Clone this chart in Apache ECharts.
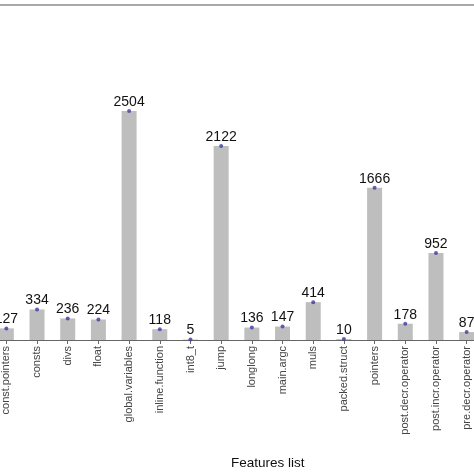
<!DOCTYPE html>
<html>
<head>
<meta charset="utf-8">
<script src="https://cdn.jsdelivr.net/npm/echarts@6/dist/echarts.min.js"></script>
<style>html,body{margin:0;padding:0;background:#fff;overflow:hidden;width:474px;height:474px;}#c{position:absolute;left:-9px;top:0;width:491px;height:474px;}</style>
</head>
<body>
<div id="c"></div>
<script>
var categories = ['const.pointers','consts','divs','float','global.variables','inline.function','int8_t','jump','longlong','main.argc','muls','packed.struct','pointers','post.decr.operator','post.incr.operator','pre.decr.operator'];
var counts = [127, 334, 236, 224, 2504, 118, 5, 2122, 136, 147, 414, 10, 1666, 178, 952, 87];
var axisTitle = 'Features list';

var OFF = 9;
var chart = echarts.init(document.getElementById('c'));
chart.setOption({
  animation: false,
  textStyle: { fontFamily: 'Liberation Sans, Arial, sans-serif' },
  grid: { left: 0, right: 0, top: 20, bottom: 134, containLabel: false, outerBoundsMode: 'none' },
  graphic: [{
    type: 'line', shape: { x1: 0, y1: 5, x2: 491, y2: 5 },
    style: { stroke: '#8c8c8c', lineWidth: 1.5 }
  }],
  title: {
    text: axisTitle, left: 231 + OFF, top: 456, padding: 0,
    textStyle: { fontSize: 13.5, fontWeight: 'normal', color: '#111', fontFamily: 'Liberation Sans, Arial, sans-serif' }
  },
  xAxis: {
    type: 'category', data: categories,
    axisLine: { show: true, lineStyle: { color: '#666', width: 1 } },
    axisTick: { show: true, alignWithLabel: true, length: 4, lineStyle: { color: '#666' } },
    axisLabel: { rotate: 90, interval: 0, fontSize: 11, color: '#444', margin: 6 }
  },
  yAxis: {
    type: 'value', min: 0, max: 3500, show: false,
    splitLine: { show: false }
  },
  series: [{
    type: 'bar', data: counts, barWidth: 15,
    itemStyle: { color: '#bebebe' },
    label: { show: true, position: 'top', distance: 2, fontSize: 14, color: '#111' }
  }, {
    type: 'scatter', data: counts, symbol: 'circle', symbolSize: 4,
    itemStyle: { color: '#3b3b9e' }, z: 5
  }]
});
</script>
</body>
</html>
